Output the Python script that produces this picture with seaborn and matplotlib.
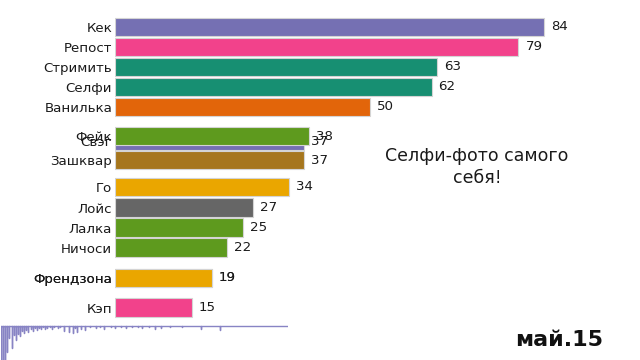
import numpy as np
import pandas as pd
import matplotlib
matplotlib.use("Agg")
import matplotlib.pyplot as plt
import seaborn as sns

# ---- data (one frame of a bar-chart race, positions are in-transition ranks) ----
names = ["Кек", "Репост", "Стримить", "Селфи", "Ванилька", "Свэг", "Фейк", "Зашквар",
         "Го", "Лойс", "Лалка", "Ничоси", "Изи", "Френдзона", "Кэп"]
values = [84, 79, 63, 62, 50, 37, 38, 37, 34, 27, 25, 22, 19, 19, 15]
ranks = [0, 1, 2, 3, 4, 5.72, 5.47, 6.66, 8.0, 9.04, 10.04, 11.04, 12.55, 12.55, 14.04]
colors = ["#7570B3", "#F2428B", "#178F72", "#178F72", "#E2650A", "#7570B3", "#5E9A1E",
          "#A6761D", "#EAA600", "#666666", "#5E9A1E", "#5E9A1E", "#EAA600", "#EAA600", "#F2428B"]
period = "май.15"
caption = "Селфи-фото самого\nсебя!"
spark = [34, 34, 34, 26, 12, 22, 9, 14, 8, 10, 5, 7, 4, 6, 3, 5, 2, 4, 2, 3, 1, 3, 2, 1, 3,
         1, 0, 2, 1, 0, 5, 0, 6, 0, 7, 2, 6, 0, 3, 0, 4, 0, 1, 0, 0, 2, 0, 1, 0, 3, 0, 0,
         1, 0, 2, 0, 0, 1, 0, 2, 0, 0, 1, 0, 0, 1, 0, 2, 0, 0, 1, 0, 0, 3, 0, 0, 2, 0, 0,
         0, 1, 0, 0, 0, 0, 0, 1, 0, 0, 0, 0, 0, 0, 0, 0, 3, 0, 0, 0, 0, 0, 0, 0, 0, 4, 0,
         0, 0, 0, 0, 0, 0, 0, 0, 0, 0, 0, 0, 0, 0, 0, 0, 0, 0, 0, 0, 0, 0, 0, 0, 0, 0, 0,
         0, 0, 0, 0]

sns.set_style("white")
plt.rcParams["font.family"] = ["DejaVu Sans"]

fig = plt.figure(figsize=(6.4, 3.6), dpi=100)
W, H = 640, 360

# main bar axes: bars start at x=115px, 5.107 px per unit, 20 px per rank slot
ax = fig.add_axes([115 / W, 40 / H, 525 / W, 320 / H])
df = pd.DataFrame({"name": names, "value": values, "rank": ranks})
native = np.min(np.diff(np.unique(ranks)))
sns.barplot(data=df, x="value", y="rank", hue="name", hue_order=names,
            palette=dict(zip(names, colors)), orient="y", native_scale=True,
            dodge=False, width=0.915 / native, saturation=1, legend=False,
            errorbar=None, edgecolor="#d4d4d4", linewidth=0.8, ax=ax)
ax.set_xlim(0, 525 / 5.107)
ax.set_ylim((320 - 26.8) / 20, (0 - 26.8) / 20)
ax.set_yticks(ranks)
ax.set_yticklabels(names, fontsize=9.6, color="#1a1a1a")
ax.tick_params(axis="y", length=0, pad=2)
ax.set_xticks([])
ax.set_xlabel("")
ax.set_ylabel("")
for s in ax.spines.values():
    s.set_visible(False)
for c in ax.containers:
    ax.bar_label(c, padding=5, fontsize=9.6, color="#1a1a1a")

# small sparkline at bottom left: vertical spikes hanging from a baseline
ax2 = fig.add_axes([1 / W, 0, 287 / W, 36 / H])
t = np.arange(len(spark))
tt = np.repeat(t, 3)
vv = np.column_stack([np.zeros(len(spark)), spark, np.zeros(len(spark))]).ravel()
sns.lineplot(x=tt, y=vv, estimator=None, sort=False, color="#8884C4",
             linewidth=1.0, ax=ax2)
ax2.set_xlim(0, len(spark) - 1)
ax2.set_ylim(34.5, -1.5)
ax2.axis("off")

fig.text(477 / W, 1 - 167 / H, caption, ha="center", va="center",
         fontsize=12.5, color="#1a1a1a", linespacing=1.35)
fig.text(603 / W, 1 - 340 / H, period, ha="right", va="center",
         fontsize=16, fontweight="bold", color="#111111")

fig.savefig("out.png", dpi=100)
